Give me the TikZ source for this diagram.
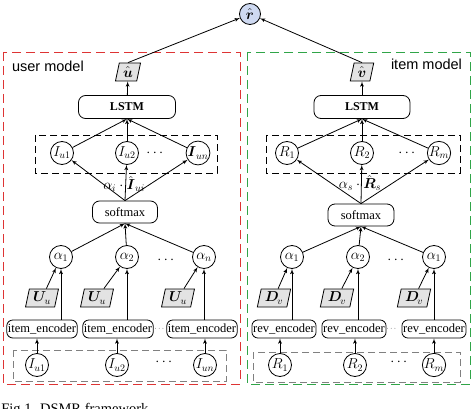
\documentclass[tikz,border=0pt]{standalone}
\usepackage{amsmath}
\usepackage{fontspec}
\setmainfont{Liberation Serif}
\newfontfamily\modelfont{Liberation Sans}
\usepackage{tikz}
\usetikzlibrary{arrows}
\usetikzlibrary{calc}
\usetikzlibrary{shapes.geometric}
\definecolor{userred}{RGB}{222,52,52}
\definecolor{itemgreen}{RGB}{48,165,72}
\definecolor{rfill}{RGB}{206,217,241}

\begin{document}
\begin{tikzpicture}[->,>=latex',thick,x=1pt,y=-1pt]
\fontsize{14}{16}\selectfont
\tikzstyle{main}=[circle, minimum size = 23pt, inner sep = 0pt, draw = black]
\tikzstyle{vec}=[trapezium, trapezium left angle = 78, trapezium right angle = 102, draw = black, fill = gray!22, minimum height = 18pt, inner sep = 1pt]
\tikzstyle{blk}=[rectangle, rounded corners = 7pt, draw = black, inner sep = 2pt, font = \fontsize{12.5}{14}\selectfont]
\tikzstyle{enc}=[blk, rounded corners = 6pt, minimum height = 18pt, inner sep = 1.2pt]
\useasboundingbox (0,0) rectangle (474,409);
% model frames
\draw[-, userred, dash pattern = on 9pt off 5pt] (3,52) rectangle (240,384);
\draw[-, itemgreen, dash pattern = on 9pt off 5pt] (247,52) rectangle (470,384);
\node[anchor = west, font = \modelfont\fontsize{14.5}{16}\selectfont] (userlab) at (7,66) {user model};
\node[anchor = east, font = \modelfont\fontsize{14.5}{16}\selectfont] (itemlab) at (467,64) {item model};
% inner groups
\draw[-, dashed, dash pattern = on 7pt off 4pt] (35,135) rectangle (217,173);
\draw[-, dashed, dash pattern = on 7pt off 4pt] (266,135) rectangle (460,173);
\draw[-, gray, dash pattern = on 7pt off 4pt] (13,350) rectangle (226,381);
\draw[-, gray, dash pattern = on 7pt off 4pt] (253,352) rectangle (460,382);
% prediction
\node[main, fill = rfill, minimum size = 21pt] (r) at (250,14) {$\hat{\boldsymbol{r}}$};
\node[vec] (u) at (128,72) {$\hat{\boldsymbol{u}}$};
\node[vec] (v) at (362,72) {$\hat{\boldsymbol{v}}$};
\node[blk, minimum width = 97pt, minimum height = 23pt, font = \bfseries\fontsize{12}{14}\selectfont] (lstmU) at (127,107) {LSTM};
\node[blk, minimum width = 96pt, minimum height = 23pt, font = \bfseries\fontsize{12}{14}\selectfont] (lstmI) at (362,107) {LSTM};
\draw (u.north) -- (r);
\draw (v.north) -- (r);
\draw (lstmU) -- (u);
\draw (lstmI) -- (v);
% user side
\foreach \name/\x/\lab in {iu1/62/{I_{u1}},iu2/127/{I_{u2}},iun/198/{\boldsymbol{I}_{un}}}
    \node[main] (\name) at (\x,153) {$\lab$};
\node (dotsIU) at (156,153) {$\cdots$};
\node[blk, minimum width = 65pt, minimum height = 22pt] (smU) at (125,212) {softmax};
\node[inner sep = 0pt] (attU) at (124,184) {$\alpha_i\cdot\hat{\boldsymbol{I}}_{ui}$};
\foreach \name/\x/\lab in {au1/61/1,au2/127/2,aun/204/n}
    \node[main] (\name) at (\x,257) {$\alpha_\lab$};
\node (dotsAU) at (167,260) {$\cdots$};
\foreach \name/\x in {uu1/42,uu2/97,uu3/178}
    \node[vec] (\name) at (\x,298) {$\boldsymbol{U}_{\!u}$};
\foreach \name/\x in {eu1/42,eu2/118,eu3/202}
    \node[enc] (\name) at (\x,329) {item\_encoder};
\node[font = \scriptsize] (dotsEU) at (160,329) {$\cdots$};
\foreach \name/\x/\lab in {bu1/37/{I_{u1}},bu2/117/{I_{u2}},bun/205/{I_{un}}}
    \node[main] (\name) at (\x,365) {$\lab$};
\node (dotsBU) at (165,362) {$\cdots$};
% item side
\foreach \name/\x/\lab in {ri1/287/{R_1},ri2/362/{R_2},rim/439/{R_m}}
    \node[main] (\name) at (\x,153) {$\lab$};
\node (dotsRI) at (408,153) {$\cdots$};
\node[blk, minimum width = 66pt, minimum height = 22pt] (smI) at (361,215) {softmax};
\node[inner sep = 0pt] (attI) at (360,183) {$\alpha_s\cdot\hat{\boldsymbol{R}}_s$};
\foreach \name/\x/\lab in {ai1/292/1,ai2/358/2,aim/434/1}
    \node[main] (\name) at (\x,257) {$\alpha_\lab$};
\node (dotsAI) at (397,260) {$\cdots$};
\foreach \name/\x in {dv1/274,dv2/337,dv3/414}
    \node[vec] (\name) at (\x,298) {$\boldsymbol{D}_{\!v}$};
\foreach \name/\x in {ei1/284,ei2/354,ei3/434}
    \node[enc] (\name) at (\x,329) {rev\_encoder};
\node[font = \scriptsize] (dotsEI) at (392,329) {$\cdots$};
\foreach \name/\x/\lab in {bi1/280/{R_1},bi2/355/{R_2},bim/434/{R_m}}
    \node[main] (\name) at (\x,365) {$\lab$};
\node (dotsBI) at (400,362) {$\cdots$};
% connections
\foreach \c/\s/\l in {iu1/smU/lstmU,iu2/smU/lstmU,iun/smU/lstmU,ri1/smI/lstmI,ri2/smI/lstmI,rim/smI/lstmI}
       {
        \path (\c) edge (\l.south);
        \path (\s.north) edge (\c);
       }
\foreach \a/\s/\w/\e/\b in {au1/smU/uu1/eu1/bu1,au2/smU/uu2/eu2/bu2,aun/smU/uu3/eu3/bun,ai1/smI/dv1/ei1/bi1,ai2/smI/dv2/ei2/bi2,aim/smI/dv3/ei3/bim}
       {
        \path (\a) edge (\s.south);
        \path (\w) edge (\a);
        \path (\a |- \e.north) edge (\a);
        \path (\b) edge (\b |- \e.south);
       }
\node[anchor = base west, inner sep = 0pt, font = \fontsize{14.5}{16}\selectfont] (caption) at (1,413) {Fig.1. DSMR framework};
\end{tikzpicture}
\end{document}
